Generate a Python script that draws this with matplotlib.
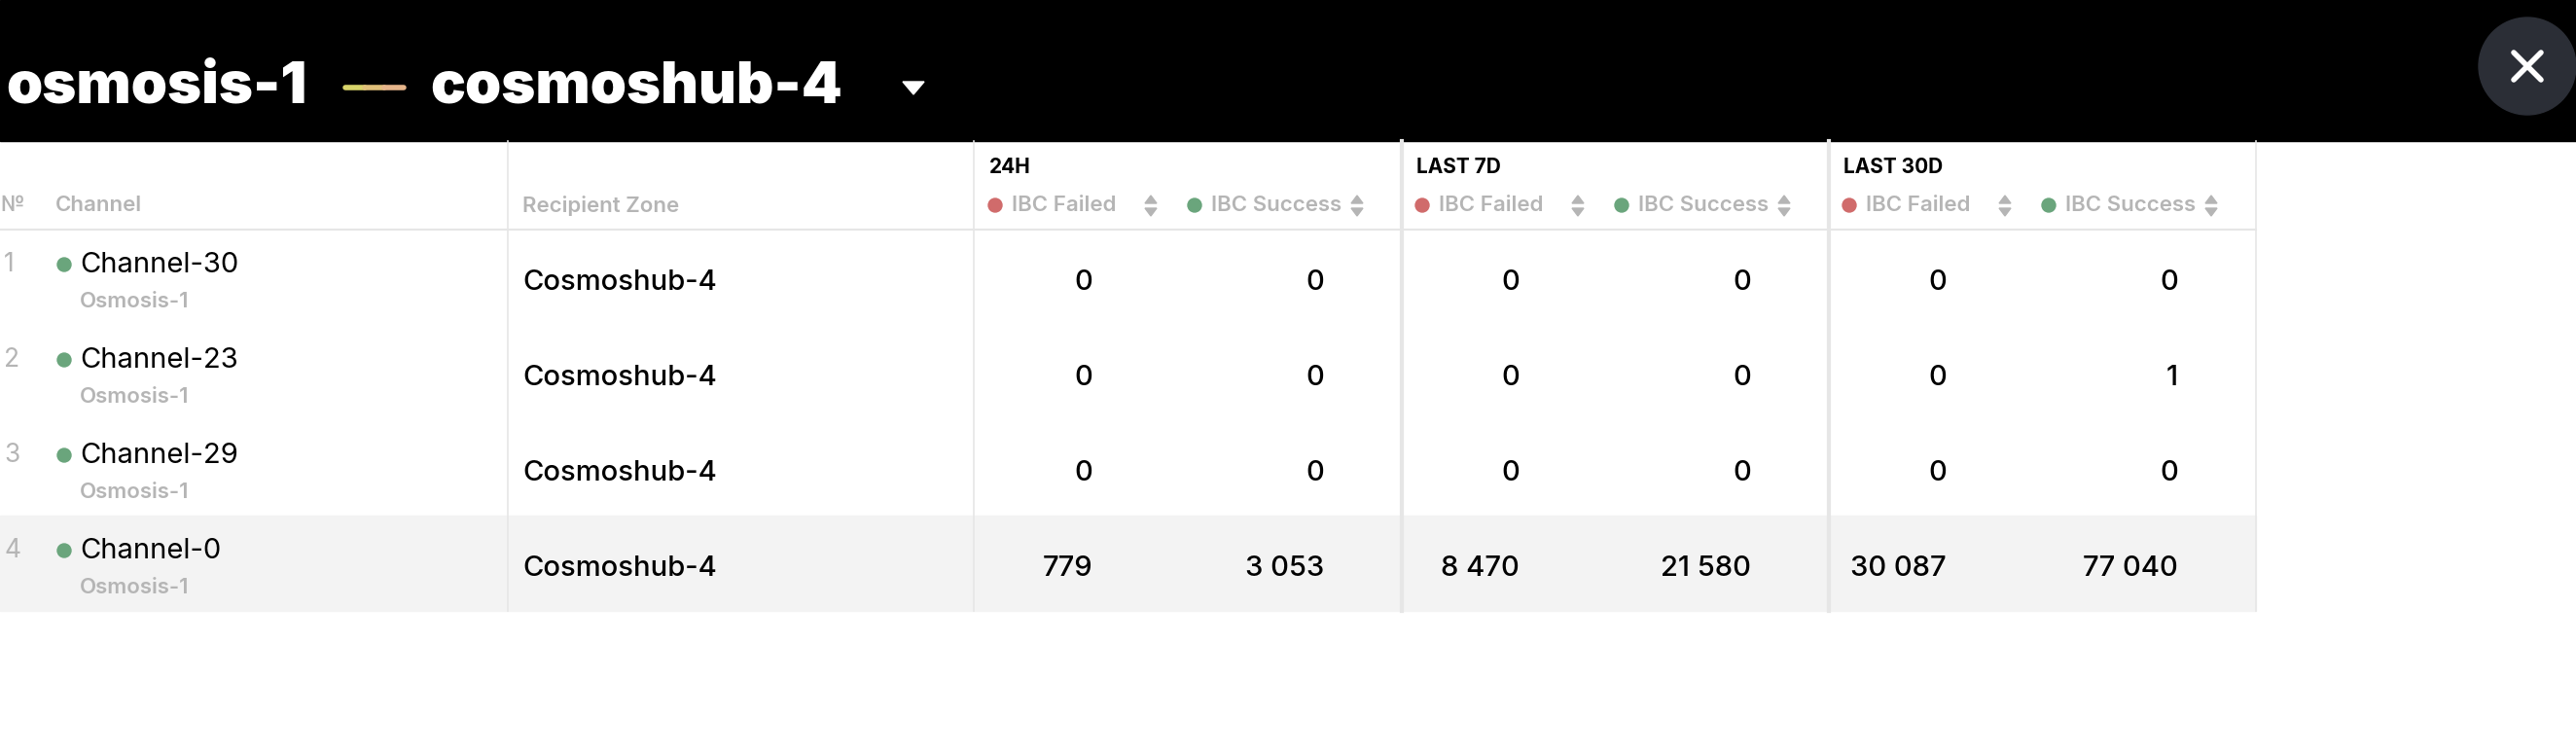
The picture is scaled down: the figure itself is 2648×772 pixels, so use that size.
import numpy as np
import matplotlib.pyplot as plt
from matplotlib.patches import Rectangle, Circle, Polygon

plt.rcParams['font.family'] = ['Inter', 'DejaVu Sans']

source = 'osmosis-1'
target = 'cosmoshub-4'
channels = ['Channel-30', 'Channel-23', 'Channel-29', 'Channel-0']
zones = ['Osmosis-1'] * 4
recipients = ['Cosmoshub-4'] * 4
periods = ['24H', 'LAST 7D', 'LAST 30D']
failed = [[0, 0, 0, 779], [0, 0, 0, 8470], [0, 0, 0, 30087]]
success = [[0, 0, 0, 3053], [0, 0, 0, 21580], [0, 1, 0, 77040]]

W, H = 2648, 772
fig = plt.figure(figsize=(W / 100, H / 100), dpi=100)
ax = fig.add_axes([0, 0, 1, 1])
ax.set_xlim(0, W)
ax.set_ylim(H, 0)
ax.axis('off')

GRAY = '#b5b5b5'
LINE = '#e6e6e6'
RED = '#d06b6b'
GREEN = '#6aa57c'

def fmt(v):
    return f'{v:,}'.replace(',', ' ')

# header bar
ax.add_patch(Rectangle((0, 0), W, 145, color='black', zorder=0))
ax.text(6, 90, source, color='white', fontsize=43, fontweight='black', va='center')
for i, c in enumerate(['#d8d46a', '#e0c07a', '#e5b48a']):
    ax.plot([355 + i * 20, 375 + i * 20], [90, 90], color=c, lw=4, solid_capstyle='round')
ax.text(442, 90, target, color='white', fontsize=43, fontweight='black', va='center')
ax.add_patch(Polygon([[928, 84], [950, 84], [939, 97]], color='white'))
ax.add_patch(Circle((2598, 68), 50, color='#2b2e36'))
ax.plot([2584, 2612], [54, 82], color='white', lw=4, solid_capstyle='round')
ax.plot([2584, 2612], [82, 54], color='white', lw=4, solid_capstyle='round')

# table grid
rows_y = [236, 334, 432, 530, 628]
ax.add_patch(Rectangle((0, 530), 2319, 98, color='#f3f3f3', zorder=0))
ax.plot([0, 2319], [236, 236], color=LINE, lw=1.5)
for x, lw in [(522, 1.2), (1001, 1.2), (1441, 3), (1880, 3), (2319, 1.2)]:
    ax.plot([x, x], [145, 628], color=LINE, lw=lw)

# column headers
hy = 211
ax.text(0, hy, '№', color=GRAY, fontsize=16, fontweight='semibold', va='center')
ax.text(57, hy, 'Channel', color=GRAY, fontsize=16, fontweight='semibold', va='center')
ax.text(537, hy, 'Recipient Zone', color=GRAY, fontsize=16, fontweight='semibold', va='center')

def arrows(x, y):
    ax.add_patch(Polygon([[x - 6, y - 2], [x + 6, y - 2], [x, y - 10]], color=GRAY))
    ax.add_patch(Polygon([[x - 6, y + 3], [x + 6, y + 3], [x, y + 11]], color=GRAY))

for g, p in enumerate(periods):
    x0 = 1017 + g * 439
    ax.text(x0, 172, p, color='black', fontsize=15, fontweight='bold', va='center')
    ax.add_patch(Circle((x0 + 6, hy), 7, color=RED))
    ax.text(x0 + 23, hy, 'IBC Failed', color=GRAY, fontsize=16, fontweight='semibold', va='center')
    arrows(x0 + 166, hy)
    ax.add_patch(Circle((x0 + 211, hy), 7, color=GREEN))
    ax.text(x0 + 228, hy, 'IBC Success', color=GRAY, fontsize=16, fontweight='semibold', va='center')
    arrows(x0 + 378, hy)

# rows
for i, ch in enumerate(channels):
    top = rows_y[i]
    ax.text(4, top + 36, str(i + 1), color=GRAY, fontsize=19, va='center')
    ax.add_patch(Circle((66, top + 36), 7, color=GREEN))
    ax.text(82, top + 36, ch, color='black', fontsize=21, va='center')
    ax.text(82, top + 74, zones[i], color=GRAY, fontsize=16, fontweight='semibold', va='center')
    ax.text(537, top + 54, recipients[i], color='black', fontsize=21, fontweight='medium', va='center')
    for g in range(3):
        ax.text(1123 + g * 439, top + 54, fmt(failed[g][i]), color='black', fontsize=21,
                fontweight='medium', va='center', ha='right')
        ax.text(1361 + g * 439, top + 54, fmt(success[g][i]), color='black', fontsize=21,
                fontweight='medium', va='center', ha='right')

fig.savefig('out.png', dpi=100)
